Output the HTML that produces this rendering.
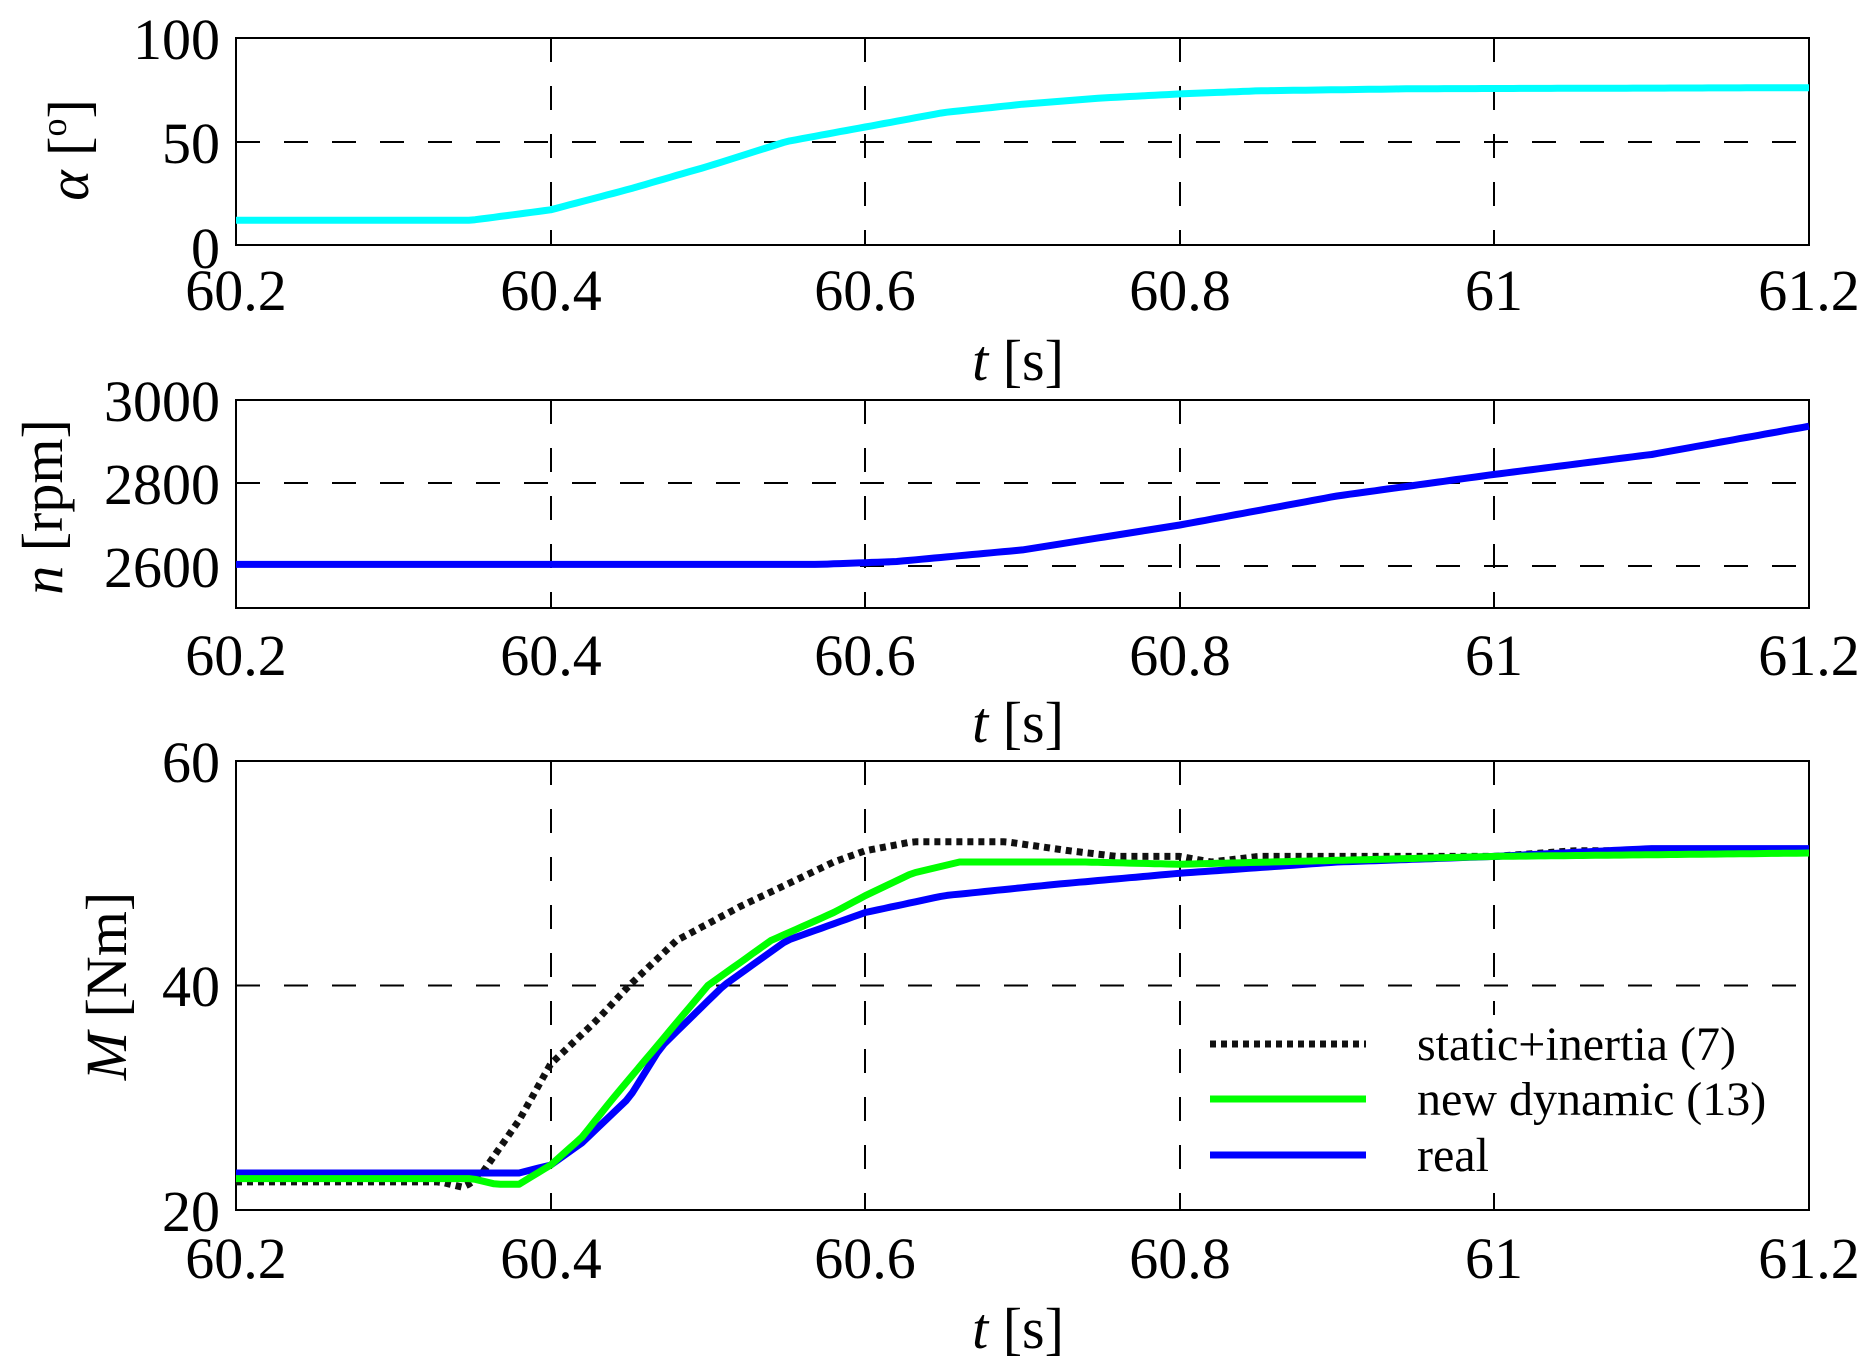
<!DOCTYPE html>
<html><head><meta charset="utf-8"><style>
html,body{margin:0;padding:0;background:#fff;}
svg{display:block;}
text{font-family:"Liberation Serif",serif;fill:#000;}
</style></head><body>
<svg id="s" width="1875" height="1371" viewBox="0 0 1875 1371" xmlns="http://www.w3.org/2000/svg">
<g font-size="58">
<!-- top -->
<rect x="236" y="38" width="1573" height="207" fill="none" stroke="#000" stroke-width="2"/>
<g stroke="#000" stroke-width="2" stroke-dasharray="24,24">
<line x1="236" y1="142" x2="1809" y2="142"/>
<line x1="236" y1="38" x2="1809" y2="38"/>
<line x1="551" y1="38" x2="551" y2="245"/><line x1="865" y1="38" x2="865" y2="245"/>
<line x1="1180" y1="38" x2="1180" y2="245"/><line x1="1494" y1="38" x2="1494" y2="245"/>
</g>
<g text-anchor="end"><text x="220" y="59">100</text><text x="220" y="163">50</text><text x="220" y="268">0</text></g>
<g text-anchor="middle">
<text x="236" y="310">60.2</text><text x="551" y="310">60.4</text><text x="865" y="310">60.6</text><text x="1180" y="310">60.8</text><text x="1494" y="310">61</text><text x="1809" y="310">61.2</text>
<text x="1018" y="380"><tspan font-style="italic">t</tspan> [s]</text>
</g>
<text transform="translate(88,150) rotate(-90)" text-anchor="middle"><tspan font-style="italic">α</tspan> [<tspan font-size="36" dy="-22">o</tspan><tspan dy="22">]</tspan></text>
<!-- middle -->
<rect x="236" y="400" width="1573" height="208" fill="none" stroke="#000" stroke-width="2"/>
<g stroke="#000" stroke-width="2" stroke-dasharray="24,24">
<line x1="236" y1="400" x2="1809" y2="400"/>
<line x1="236" y1="483" x2="1809" y2="483"/><line x1="236" y1="566" x2="1809" y2="566"/>
<line x1="551" y1="400" x2="551" y2="608"/><line x1="865" y1="400" x2="865" y2="608"/>
<line x1="1180" y1="400" x2="1180" y2="608"/><line x1="1494" y1="400" x2="1494" y2="608"/>
</g>
<g text-anchor="end"><text x="220" y="421">3000</text><text x="220" y="504">2800</text><text x="220" y="587">2600</text></g>
<g text-anchor="middle">
<text x="236" y="675">60.2</text><text x="551" y="675">60.4</text><text x="865" y="675">60.6</text><text x="1180" y="675">60.8</text><text x="1494" y="675">61</text><text x="1809" y="675">61.2</text>
<text x="1018" y="742"><tspan font-style="italic">t</tspan> [s]</text>
</g>
<text transform="translate(62,507) rotate(-90)" text-anchor="middle"><tspan font-style="italic">n</tspan> [rpm]</text>
<!-- bottom -->
<rect x="236" y="761" width="1573" height="449" fill="none" stroke="#000" stroke-width="2"/>
<g stroke="#000" stroke-width="2" stroke-dasharray="24,24">
<line x1="236" y1="761" x2="1809" y2="761"/>
<line x1="236" y1="985.5" x2="1809" y2="985.5"/>
<line x1="551" y1="761" x2="551" y2="1210"/><line x1="865" y1="761" x2="865" y2="1210"/>
<line x1="1180" y1="761" x2="1180" y2="1210"/><line x1="1494" y1="761" x2="1494" y2="1210"/>
</g>
<g text-anchor="end"><text x="220" y="782">60</text><text x="220" y="1006">40</text><text x="220" y="1231">20</text></g>
<g text-anchor="middle">
<text x="236" y="1278">60.2</text><text x="551" y="1278">60.4</text><text x="865" y="1278">60.6</text><text x="1180" y="1278">60.8</text><text x="1494" y="1278">61</text><text x="1809" y="1278">61.2</text>
<text x="1018" y="1348"><tspan font-style="italic">t</tspan> [s]</text>
</g>
<text transform="translate(126,986) rotate(-90)" text-anchor="middle"><tspan font-style="italic">M</tspan> [Nm]</text>
</g>
<g id="series" fill="none" stroke-width="7" stroke-linejoin="round"></g>
<rect x="1192" y="1015" width="598" height="172" fill="#fff"/>
<g font-size="48">
<line x1="1210" y1="1044" x2="1366" y2="1044" stroke="#111" stroke-width="7" stroke-dasharray="6,5"/>
<line x1="1210" y1="1099" x2="1366" y2="1099" stroke="#00ff00" stroke-width="7"/>
<line x1="1210" y1="1155" x2="1366" y2="1155" stroke="#0000ff" stroke-width="7"/>
<text x="1417" y="1060">static+inertia (7)</text>
<text x="1417" y="1115">new dynamic (13)</text>
<text x="1417" y="1171">real</text>
</g>
</svg>
<script>
function X(t){return 236+(t-60.2)*1573;}
function interp(pts,t){for(var i=0;i<pts.length-1;i++){if(t<=pts[i+1][0]){var a=pts[i],b=pts[i+1];return a[1]+(b[1]-a[1])*(t-a[0])/(b[0]-a[0]);}}return pts[pts.length-1][1];}
function poly(pts,ymap,color,dash){var s=[];for(var t=60.2;t<=61.2001;t+=0.004){s.push(X(t).toFixed(1)+","+ymap(interp(pts,t)).toFixed(1));}
var p=document.createElementNS("http://www.w3.org/2000/svg","polyline");p.setAttribute("points",s.join(" "));p.setAttribute("stroke",color);if(dash)p.setAttribute("stroke-dasharray",dash);document.getElementById("series").insertBefore(p,null);}
var ya=function(v){return 245-v*2.07;};
var yn=function(v){return 608-(v-2500)*0.415;};
var ym=function(v){return 1210-(v-20)*11.225;};
poly([[60.2,12],[60.35,12],[60.4,17],[60.45,27],[60.5,38],[60.55,50],[60.6,57],[60.65,64],[60.7,68],[60.75,71],[60.8,73],[60.85,74.5],[60.95,75.5],[61.2,76]],ya,"#00ffff");
poly([[60.2,2605],[60.57,2605],[60.62,2612],[60.7,2640],[60.8,2700],[60.9,2770],[61.0,2822],[61.1,2870],[61.2,2938]],yn,"#0000ff");
poly([[60.2,22.5],[60.33,22.5],[60.345,22],[60.355,23],[60.38,28],[60.4,33],[60.43,37],[60.45,40],[60.48,44],[60.52,47],[60.55,49],[60.58,51],[60.6,52],[60.63,52.8],[60.69,52.8],[60.73,52],[60.76,51.5],[60.8,51.5],[60.82,51],[60.85,51.5],[61.0,51.5],[61.05,52],[61.2,52]],ym,"#111","6,5");
poly([[60.2,23.3],[60.38,23.3],[60.4,24],[60.42,26],[60.45,30],[60.47,34.5],[60.51,40],[60.55,44],[60.6,46.5],[60.65,48],[60.72,49],[60.8,50],[60.9,51],[61.0,51.5],[61.1,52.2],[61.2,52.2]],ym,"#0000ff");
poly([[60.2,22.8],[60.35,22.8],[60.365,22.3],[60.38,22.3],[60.4,24],[60.42,26.5],[60.44,30],[60.47,35],[60.5,40],[60.54,44],[60.58,46.5],[60.6,48],[60.63,50],[60.66,51],[60.74,51],[60.8,50.8],[61.0,51.5],[61.2,51.8]],ym,"#00ff00");
</script>
</body></html>
